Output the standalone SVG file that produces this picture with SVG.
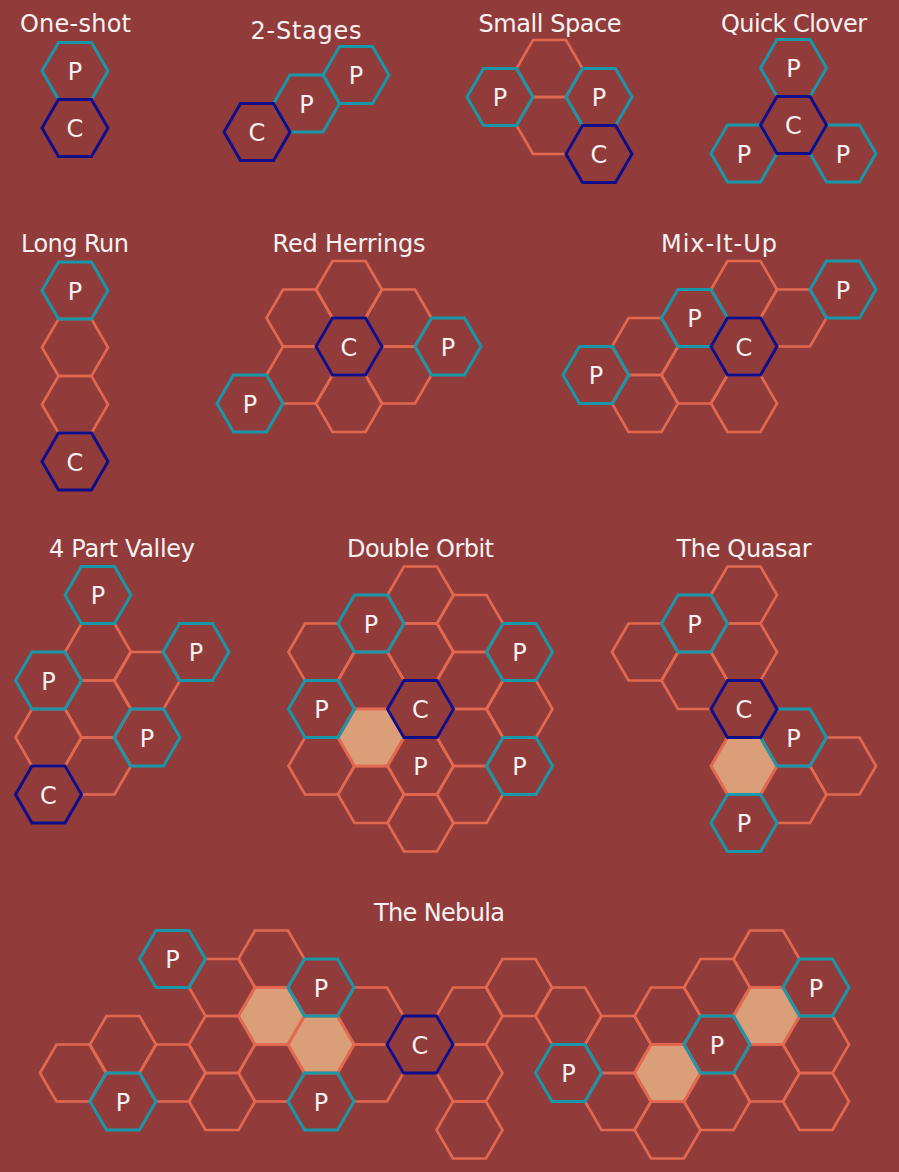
<svg xmlns="http://www.w3.org/2000/svg" width="899" height="1172" viewBox="0 0 899 1172">
<defs>
<style>
.o{fill:none;stroke:#E2684F;stroke-width:2.7}
.f{fill:#DA9E79;stroke:#E2684F;stroke-width:3}
.p{fill:none;stroke:#1797A9;stroke-width:3}
.c{fill:none;stroke:#0F0E8A;stroke-width:3}
.t{font-family:"DejaVu Sans",sans-serif;font-size:24px;fill:#F7F2F2;text-anchor:middle}
.l{font-family:"DejaVu Sans",sans-serif;font-size:24px;fill:#F7F2F2;text-anchor:middle}
</style>
<path id="hx" d="M-33,0 L-16.5,-28.5 L16.5,-28.5 L33,0 L16.5,28.5 L-16.5,28.5 Z"/>
</defs>
<rect width="899" height="1172" fill="#923B3B"/>

<g id="one-shot">
<text class="t" x="75.5" y="32" textLength="111" lengthAdjust="spacing">One-shot</text>
<g id="os-p"><use href="#hx" x="75" y="71" class="p"/><text class="l" x="75" y="80">P</text></g>
<g id="os-c"><use href="#hx" x="75" y="128" class="c"/><text class="l" x="75" y="137">C</text></g>
</g>

<g id="two-stages">
<text class="t" x="306" y="39" textLength="111" lengthAdjust="spacing">2-Stages</text>
<g id="ts-p1"><use href="#hx" x="306.5" y="103.5" class="p"/><text class="l" x="306.5" y="112.5">P</text></g>
<g id="ts-p2"><use href="#hx" x="356" y="75" class="p"/><text class="l" x="356" y="84">P</text></g>
<g id="ts-c"><use href="#hx" x="257" y="132" class="c"/><text class="l" x="257" y="141">C</text></g>
</g>

<g id="small-space">
<text class="t" x="550" y="32" textLength="143" lengthAdjust="spacing">Small Space</text>
<use href="#hx" x="549.5" y="68.5" class="o"/>
<use href="#hx" x="549.5" y="125.5" class="o"/>
<g id="ss-p1"><use href="#hx" x="500" y="97" class="p"/><text class="l" x="500" y="106">P</text></g>
<g id="ss-p2"><use href="#hx" x="599" y="97" class="p"/><text class="l" x="599" y="106">P</text></g>
<g id="ss-c"><use href="#hx" x="599" y="154" class="c"/><text class="l" x="599" y="163">C</text></g>
</g>

<g id="quick-clover">
<text class="t" x="794" y="32" textLength="146" lengthAdjust="spacing">Quick Clover</text>
<g id="qc-p1"><use href="#hx" x="793.5" y="68" class="p"/><text class="l" x="793.5" y="77">P</text></g>
<g id="qc-p2"><use href="#hx" x="744" y="153.5" class="p"/><text class="l" x="744" y="162.5">P</text></g>
<g id="qc-p3"><use href="#hx" x="843" y="153.5" class="p"/><text class="l" x="843" y="162.5">P</text></g>
<g id="qc-c"><use href="#hx" x="793.5" y="125" class="c"/><text class="l" x="793.5" y="134">C</text></g>
</g>

<g id="long-run">
<text class="t" x="75" y="252" textLength="108" lengthAdjust="spacing">Long Run</text>
<use href="#hx" x="75" y="347.5" class="o"/>
<use href="#hx" x="75" y="404.5" class="o"/>
<g id="lr-p"><use href="#hx" x="75" y="290.5" class="p"/><text class="l" x="75" y="299.5">P</text></g>
<g id="lr-c"><use href="#hx" x="75" y="461.5" class="c"/><text class="l" x="75" y="470.5">C</text></g>
</g>

<g id="red-herrings">
<text class="t" x="349" y="252" textLength="153" lengthAdjust="spacing">Red Herrings</text>
<use href="#hx" x="349" y="289.5" class="o"/>
<use href="#hx" x="299.5" y="318" class="o"/>
<use href="#hx" x="398.5" y="318" class="o"/>
<use href="#hx" x="299.5" y="375" class="o"/>
<use href="#hx" x="398.5" y="375" class="o"/>
<use href="#hx" x="349" y="403.5" class="o"/>
<g id="rh-p1"><use href="#hx" x="448" y="346.5" class="p"/><text class="l" x="448" y="355.5">P</text></g>
<g id="rh-p2"><use href="#hx" x="250" y="403.5" class="p"/><text class="l" x="250" y="412.5">P</text></g>
<g id="rh-c"><use href="#hx" x="349" y="346.5" class="c"/><text class="l" x="349" y="355.5">C</text></g>
</g>

<g id="mix-it-up">
<text class="t" x="719" y="252" textLength="116" lengthAdjust="spacing">Mix-It-Up</text>
<use href="#hx" x="645" y="346.5" class="o"/>
<use href="#hx" x="645" y="403.5" class="o"/>
<use href="#hx" x="694.5" y="375" class="o"/>
<use href="#hx" x="744" y="289.5" class="o"/>
<use href="#hx" x="744" y="403.5" class="o"/>
<use href="#hx" x="793.5" y="318" class="o"/>
<g id="mu-p1"><use href="#hx" x="596" y="375" class="p"/><text class="l" x="596" y="384">P</text></g>
<g id="mu-p2"><use href="#hx" x="694.5" y="318" class="p"/><text class="l" x="694.5" y="327">P</text></g>
<g id="mu-p3"><use href="#hx" x="843" y="289.5" class="p"/><text class="l" x="843" y="298.5">P</text></g>
<g id="mu-c"><use href="#hx" x="744" y="346.5" class="c"/><text class="l" x="744" y="355.5">C</text></g>
</g>

<g id="four-part-valley">
<text class="t" x="122" y="557" textLength="146" lengthAdjust="spacing">4 Part Valley</text>
<use href="#hx" x="98" y="652" class="o"/>
<use href="#hx" x="147" y="680.5" class="o"/>
<use href="#hx" x="98" y="709" class="o"/>
<use href="#hx" x="48.5" y="737.5" class="o"/>
<use href="#hx" x="98" y="766" class="o"/>
<g id="pv-p1"><use href="#hx" x="98" y="595" class="p"/><text class="l" x="98" y="604">P</text></g>
<g id="pv-p2"><use href="#hx" x="196" y="652" class="p"/><text class="l" x="196" y="661">P</text></g>
<g id="pv-p3"><use href="#hx" x="48.5" y="680.5" class="p"/><text class="l" x="48.5" y="689.5">P</text></g>
<g id="pv-p4"><use href="#hx" x="147" y="737.5" class="p"/><text class="l" x="147" y="746.5">P</text></g>
<g id="pv-c"><use href="#hx" x="48.5" y="794.5" class="c"/><text class="l" x="48.5" y="803.5">C</text></g>
</g>

<g id="double-orbit">
<text class="t" x="420.5" y="557" textLength="147" lengthAdjust="spacing">Double Orbit</text>
<use href="#hx" x="420.5" y="595" class="o"/>
<use href="#hx" x="470" y="623.5" class="o"/>
<use href="#hx" x="321.5" y="652" class="o"/>
<use href="#hx" x="420.5" y="652" class="o"/>
<use href="#hx" x="371" y="680.5" class="o"/>
<use href="#hx" x="470" y="680.5" class="o"/>
<use href="#hx" x="519.5" y="709" class="o"/>
<use href="#hx" x="470" y="737.5" class="o"/>
<use href="#hx" x="321.5" y="766" class="o"/>
<use href="#hx" x="371" y="794.5" class="o"/>
<use href="#hx" x="470" y="794.5" class="o"/>
<use href="#hx" x="420.5" y="823" class="o"/>
<use href="#hx" x="371" y="737.5" class="f"/>
<g id="do-p1"><use href="#hx" x="371" y="623.5" class="p"/><text class="l" x="371" y="632.5">P</text></g>
<g id="do-p2"><use href="#hx" x="519.5" y="652" class="p"/><text class="l" x="519.5" y="661">P</text></g>
<g id="do-p3"><use href="#hx" x="321.5" y="709" class="p"/><text class="l" x="321.5" y="718">P</text></g>
<g id="do-p4"><use href="#hx" x="519.5" y="766" class="p"/><text class="l" x="519.5" y="775">P</text></g>
<g id="do-p5"><use href="#hx" x="420.5" y="766" class="o"/><text class="l" x="420.5" y="775">P</text></g>
<g id="do-c"><use href="#hx" x="420.5" y="709" class="c"/><text class="l" x="420.5" y="718">C</text></g>
</g>

<g id="the-quasar">
<text class="t" x="744" y="557" textLength="135" lengthAdjust="spacing">The Quasar</text>
<use href="#hx" x="744" y="595" class="o"/>
<use href="#hx" x="645" y="652" class="o"/>
<use href="#hx" x="744" y="652" class="o"/>
<use href="#hx" x="694.5" y="680.5" class="o"/>
<use href="#hx" x="843" y="766" class="o"/>
<use href="#hx" x="793.5" y="794.5" class="o"/>
<use href="#hx" x="744" y="766" class="f"/>
<g id="qu-p1"><use href="#hx" x="694.5" y="623.5" class="p"/><text class="l" x="694.5" y="632.5">P</text></g>
<g id="qu-p2"><use href="#hx" x="793.5" y="737.5" class="p"/><text class="l" x="793.5" y="746.5">P</text></g>
<g id="qu-p3"><use href="#hx" x="744" y="823" class="p"/><text class="l" x="744" y="832">P</text></g>
<g id="qu-c"><use href="#hx" x="744" y="709" class="c"/><text class="l" x="744" y="718">C</text></g>
</g>

<g id="the-nebula">
<text class="t" x="439.5" y="920.5" textLength="131" lengthAdjust="spacing">The Nebula</text>
<use href="#hx" x="73" y="1073" class="o"/>
<use href="#hx" x="123" y="1044.5" class="o"/>
<use href="#hx" x="172.5" y="1073" class="o"/>
<use href="#hx" x="222" y="987.5" class="o"/>
<use href="#hx" x="222" y="1044.5" class="o"/>
<use href="#hx" x="222" y="1101.5" class="o"/>
<use href="#hx" x="271.5" y="959" class="o"/>
<use href="#hx" x="271.5" y="1073" class="o"/>
<use href="#hx" x="370.5" y="1016" class="o"/>
<use href="#hx" x="370.5" y="1073" class="o"/>
<use href="#hx" x="469.5" y="1016" class="o"/>
<use href="#hx" x="469.5" y="1073" class="o"/>
<use href="#hx" x="469.5" y="1130" class="o"/>
<use href="#hx" x="519" y="987.5" class="o"/>
<use href="#hx" x="568.5" y="1016" class="o"/>
<use href="#hx" x="618" y="1044.5" class="o"/>
<use href="#hx" x="618" y="1101.5" class="o"/>
<use href="#hx" x="667.5" y="1016" class="o"/>
<use href="#hx" x="667.5" y="1130" class="o"/>
<use href="#hx" x="717" y="987.5" class="o"/>
<use href="#hx" x="717" y="1101.5" class="o"/>
<use href="#hx" x="766.5" y="959" class="o"/>
<use href="#hx" x="766.5" y="1073" class="o"/>
<use href="#hx" x="816" y="1044.5" class="o"/>
<use href="#hx" x="816" y="1101.5" class="o"/>
<use href="#hx" x="271.5" y="1016" class="f"/>
<use href="#hx" x="321" y="1044.5" class="f"/>
<use href="#hx" x="667.5" y="1073" class="f"/>
<use href="#hx" x="766.5" y="1016" class="f"/>
<g id="ne-p1"><use href="#hx" x="123" y="1101.5" class="p"/><text class="l" x="123" y="1110.5">P</text></g>
<g id="ne-p2"><use href="#hx" x="172.5" y="959" class="p"/><text class="l" x="172.5" y="968">P</text></g>
<g id="ne-p3"><use href="#hx" x="321" y="987.5" class="p"/><text class="l" x="321" y="996.5">P</text></g>
<g id="ne-p4"><use href="#hx" x="321" y="1101.5" class="p"/><text class="l" x="321" y="1110.5">P</text></g>
<g id="ne-p5"><use href="#hx" x="568.5" y="1073" class="p"/><text class="l" x="568.5" y="1082">P</text></g>
<g id="ne-p6"><use href="#hx" x="717" y="1044.5" class="p"/><text class="l" x="717" y="1053.5">P</text></g>
<g id="ne-p7"><use href="#hx" x="816" y="987.5" class="p"/><text class="l" x="816" y="996.5">P</text></g>
<g id="ne-c"><use href="#hx" x="420" y="1044.5" class="c"/><text class="l" x="420" y="1053.5">C</text></g>
</g>
</svg>
